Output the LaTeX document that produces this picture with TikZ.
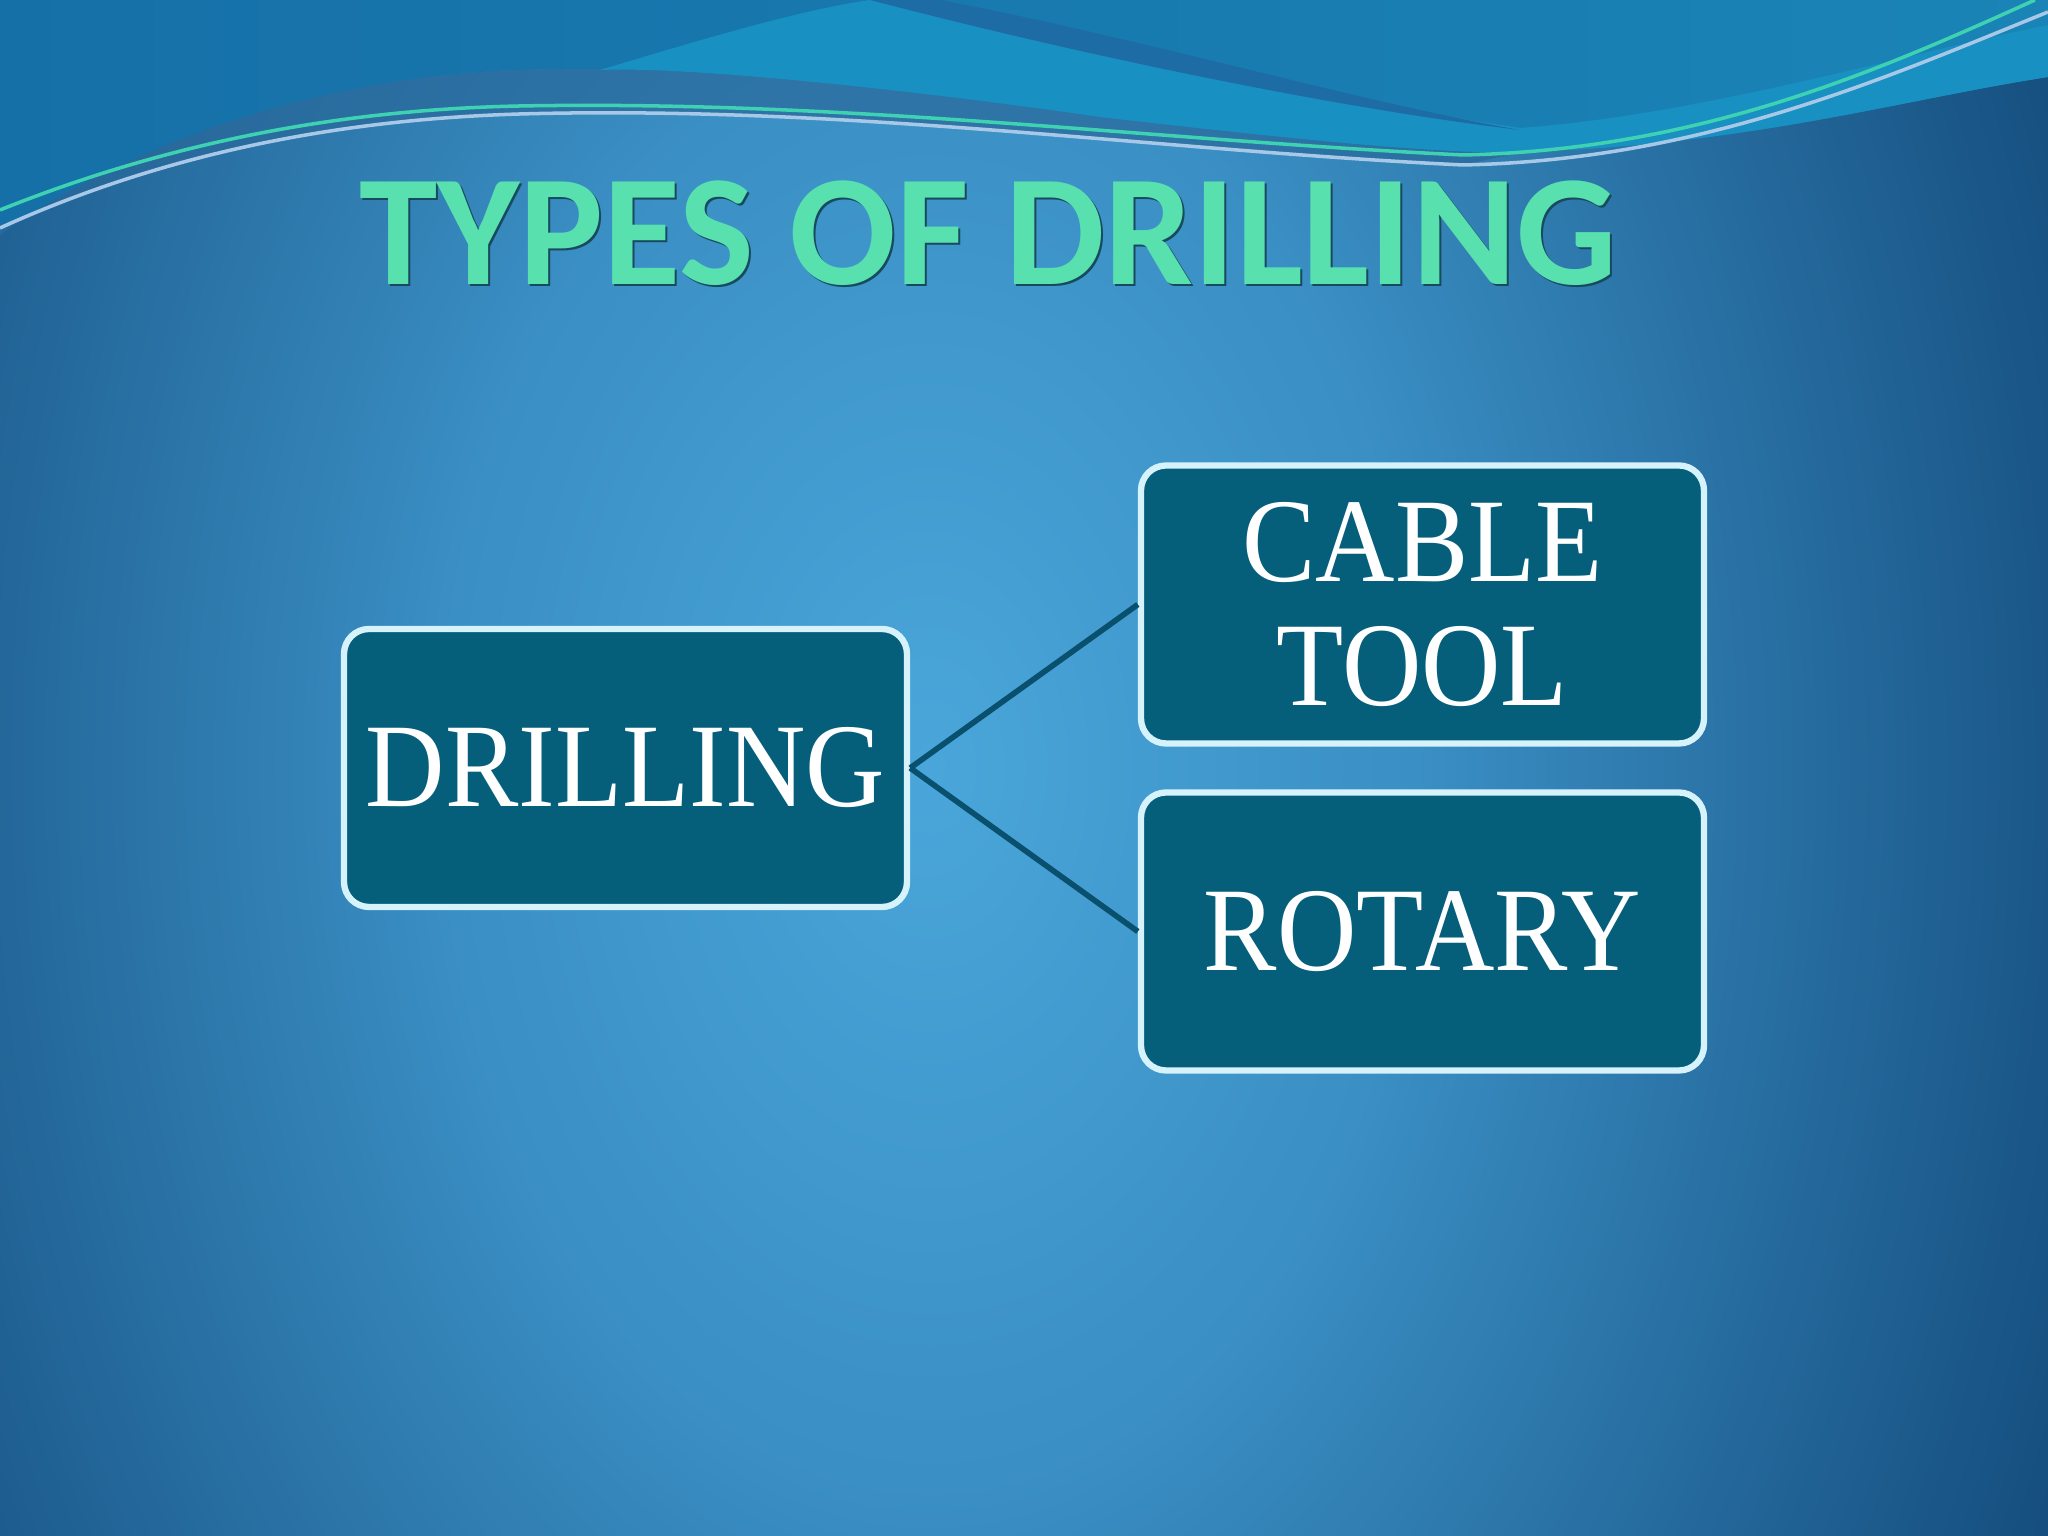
\documentclass[tikz,border=0pt]{standalone}
\usepackage{fontspec}
\setmainfont{Liberation Serif}
\newfontfamily\headfont{Carlito}
\newfontfamily\boxserif[FakeStretch=0.92]{Liberation Serif}
\usetikzlibrary{calc}
\newcommand{\boxfont}{\boxserif\fontsize{34}{35.3}\selectfont}
\newcommand{\headsize}{\headfont\bfseries\fontsize{45}{50}\selectfont}
\def\boxwdth{5.63}
\def\boxheight{2.78}
\def\slidewdth{20.48}
\def\slideheight{15.36}
\definecolor{bgcentre}{HTML}{4AA6DA}
\definecolor{bgmid}{HTML}{3A8FC4}
\definecolor{bgedge}{HTML}{1F5F91}
\definecolor{bgcorner}{HTML}{0F4474}
\definecolor{topblue}{HTML}{1670A8}
\definecolor{topteal}{HTML}{1A84B6}
\definecolor{banddark}{HTML}{29699B}
\definecolor{ribbon}{HTML}{1990C2}
\definecolor{stripe}{HTML}{1E6CA5}
\definecolor{linegreen}{HTML}{3FD2B2}
\definecolor{linepale}{HTML}{A8C8E8}
\definecolor{boxfill}{HTML}{055F7B}
\definecolor{boxedge}{HTML}{D6F3FB}
\definecolor{linkcol}{HTML}{08506E}
\definecolor{headmint}{HTML}{58E0AE}
\definecolor{headshade}{HTML}{174A5E}
\pgfdeclareradialshading{slidebg}{\pgfpoint{0bp}{0bp}}{color(0bp)=(bgcentre); color(9bp)=(bgmid); color(19bp)=(bgedge); color(25bp)=(bgcorner); color(50bp)=(bgcorner)}

\begin{document}
\begin{tikzpicture}[
  stagebox/.style={draw=boxedge, line width=1.8pt, fill=boxfill, rounded corners=0.25cm,
    minimum width=\boxwdth cm, minimum height=\boxheight cm, text=white,
    align=center, font=\boxfont, inner sep=0pt},
  link/.style={draw=linkcol, line width=1.6pt}]

\useasboundingbox (0,0) rectangle (\slidewdth,\slideheight);

% BACKGROUND
\begin{scope}
\clip (0,0) rectangle (\slidewdth,\slideheight);
\fill[bgcorner] (0,0) rectangle (\slidewdth,\slideheight);
\shade[shading=slidebg] (9.3,7.7) ellipse (13.5 and 20);

% WAVES (y = 15.36 - px/100)
\shade[left color=topblue, right color=topteal]
  (0,13.01) .. controls (0.6,13.46) and (2.5,14.56) .. (5.17,14.66)
  .. controls (7.5,14.74) and (9.5,14.41) .. (11.0,14.19)
  .. controls (13.0,13.96) and (14.5,13.81) .. (15.23,13.84)
  .. controls (17.5,13.91) and (19.0,14.36) .. (\slidewdth,14.59)
  -- (\slidewdth,\slideheight) -- (0,\slideheight) -- cycle;
% dark band
\fill[banddark, fill opacity=0.7]
  (0,13.01) .. controls (0.6,13.46) and (2.5,14.56) .. (5.17,14.66)
  .. controls (7.5,14.74) and (9.5,14.41) .. (11.0,14.19)
  .. controls (13.0,13.96) and (14.5,13.81) .. (15.23,13.84)
  -- (14.63,13.71) .. controls (11.5,13.86) and (8.5,14.31) .. (5.2,14.22)
  .. controls (3.2,14.16) and (1.5,13.76) .. (0,13.08) -- cycle;
% ribbon
\fill[ribbon] (8.7,\slideheight) .. controls (10.0,15.06) and (13.0,14.41) .. (15.2,14.08)
  .. controls (17.0,14.21) and (19.0,14.81) .. (\slidewdth,15.11)
  -- (\slidewdth,14.59) .. controls (19.0,14.36) and (17.5,13.91) .. (15.23,13.84)
  .. controls (14.5,13.81) and (13.0,13.96) .. (11.0,14.19)
  .. controls (9.5,14.41) and (7.0,14.70) .. (6.0,14.66)
  .. controls (7.0,14.96) and (8.0,15.26) .. (8.7,\slideheight) -- cycle;
% stripe
\fill[stripe] (9.4,\slideheight) .. controls (11.5,14.96) and (13.5,14.36) .. (15.2,14.06)
  .. controls (13.5,14.26) and (11.0,14.76) .. (8.7,\slideheight) -- cycle;
\draw[linegreen, line width=1pt] (0,13.26) .. controls (1.5,13.86) and (3.2,14.26) .. (5.2,14.30)
  .. controls (8.5,14.36) and (11.5,13.96) .. (14.63,13.81)
  .. controls (17.0,13.86) and (18.8,14.66) .. (20.35,15.36);
\draw[linepale, line width=1pt] (0,13.08) .. controls (1.5,13.76) and (3.2,14.16) .. (5.2,14.22)
  .. controls (8.5,14.31) and (11.5,13.86) .. (14.63,13.71)
  .. controls (17.0,13.76) and (18.8,14.56) .. (\slidewdth,15.24);
\end{scope}

% TITLE
\node[anchor=base, text=headshade, font=\headsize] (titleshade) at (9.90,12.49) {TYPES OF DRILLING};
\node[anchor=base, text=headmint, font=\headsize] (title) at (9.88,12.51) {TYPES OF DRILLING};

% DRILLING
\node[stagebox] (drill) at (6.255,7.68) {DRILLING};

% CABLE TOOL
\node[stagebox] (cable) at (14.225,9.315) {CABLE\\TOOL};

% ROTARY
\node[stagebox] (rotary) at (14.225,6.045) {ROTARY};

\draw[link] (drill.east) -- (cable.west);
\draw[link] (drill.east) -- (rotary.west);
\end{tikzpicture}
\end{document}
